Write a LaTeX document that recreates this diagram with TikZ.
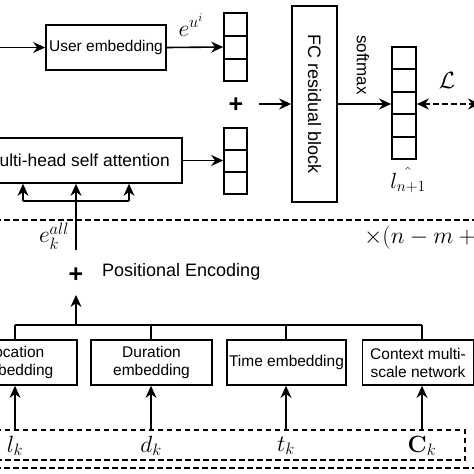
\documentclass[tikz,border=0pt]{standalone}
\usepackage{fix-cm}
\usepackage{amsmath}
\usepackage[no-math]{fontspec}
\setmainfont{Liberation Sans}
\usetikzlibrary{arrows.meta}
\begin{document}
\begin{tikzpicture}[x=1pt,y=-1pt,
  box/.style={draw, line width=1.7pt, minimum height=45pt, align=center,
    font=\fontsize{15.5}{18}\selectfont, inner sep=0pt},
  arr/.style={-{Stealth[length=12pt,width=11pt]}, line width=1.6pt},
  ln/.style={line width=1.6pt},
  dsh/.style={line width=1.6pt, dash pattern=on 5.5pt off 3.5pt},
  mlab/.style={font=\fontsize{23.5}{24}\selectfont, inner sep=0pt},
  cell/.style={draw, line width=1.7pt, inner sep=0pt},
  plus/.style={font=\fontsize{25}{25}\selectfont\bfseries, inner sep=0pt}
]
\path[use as bounding box] (0,0) rectangle (474,474);
\clip (0,0) rectangle (474,474);

% ---- top part ----
\node[box, minimum width=120pt] (user) at (106,47.5) {User embedding};
\coordinate (inU) at (-12,47.5);
\draw[arr] (inU) -- (user.west);
\node[mlab] (eu) at (191,25) {$e^{u^i}$};

\node[cell, minimum width=23pt, minimum height=68pt] (v1) at (235.5,47) {};
\draw[ln] (224,36) -- (247,36) (224,59) -- (247,59);
\draw[arr] (user.east) -- (v1.west);

\node[plus] (p1) at (236,105) {+};

\node[box, minimum width=209pt, font=\fontsize{17.4}{20}\selectfont] (mh) at (77.5,160.5) {Multi-head self attention};
\node[cell, minimum width=23pt, minimum height=66pt] (v2) at (235.5,161) {};
\draw[ln] (224,150) -- (247,150) (224,172) -- (247,172);
\draw[arr] (mh.east) -- (mh.east -| v2.west);

\node[box, minimum width=45pt, minimum height=196pt] (fc) at (314.5,104) {};
\node[rotate=-90, font=\fontsize{18}{20}\selectfont, inner sep=0pt] (fct) at (fc.center) {FC residual block};
\coordinate (p1r) at (259,104);
\draw[arr] (p1r) -- (fc.west);

\node[cell, minimum width=24pt, minimum height=112pt] (vo) at (404,103) {};
\draw[ln] (392,69) -- (416,69) (392,92) -- (416,92) (392,114) -- (416,114) (392,137) -- (416,137);
\draw[arr] (fc.east) -- (fc.east -| vo.west);
\node[rotate=-90, font=\fontsize{17}{19}\selectfont, inner sep=0pt] (sm) at (363,65) {softmax};

\coordinate (rt) at (480,104);
\draw[dsh, {Stealth[length=12pt,width=11pt]}-{Stealth[length=12pt,width=11pt]}] (vo.east |- rt) -- (rt);
\node[mlab] (L) at (447,80) {$\mathcal{L}$};
\node[mlab, font=\fontsize{22}{22}\selectfont] (lhat) at (408,180) {$\hat{l_{n+1}}$};

% ---- attention inputs ----
\coordinate (b1) at (23,201);
\coordinate (b3) at (129,201);
\draw[ln] (b1) -- (b3);
\draw[arr] (b1) -- (b1 |- mh.south);
\draw[arr] (b3) -- (b3 |- mh.south);
\coordinate (c0) at (76,250);
\draw[arr] (c0) -- (c0 |- mh.south);

\draw[dsh] (-5,220) -- (480,220);
\node[mlab, anchor=west] (rep) at (364,238) {$\times(n-m+1)$};
\node[mlab] (eall) at (54,236) {$e_k^{all}$};

\node[plus] (p2) at (76,275) {+};
\node[anchor=west, font=\fontsize{18}{20}\selectfont, inner sep=0pt] (pe) at (102,272) {Positional Encoding};

% ---- embeddings ----
\node[box, minimum width=124pt] (loc) at (15,362.5) {Location\\embedding};
\node[box, minimum width=121pt] (dur) at (151.5,362.5) {Duration\\embedding};
\node[box, minimum width=119pt] (tim) at (286.5,362.5) {Time embedding};
\node[box, minimum width=111pt] (ctx) at (418,362.5) {Context multi-\\scale network};

\coordinate (d1) at (15,325);
\coordinate (d2) at (151,325);
\coordinate (d3) at (286,325);
\coordinate (d4) at (422,325);
\coordinate (up) at (76,325);
\draw[ln] (d1) -- (d4);
\draw[ln] (d1) -- (d1 |- loc.north);
\draw[ln] (d2) -- (d2 |- dur.north);
\draw[ln] (d3) -- (d3 |- tim.north);
\draw[ln] (d4) -- (d4 |- ctx.north);
\coordinate (p2b) at (76,295);
\draw[arr] (up) -- (p2b);

% ---- inputs ----
\coordinate (i1) at (15,430);
\coordinate (i2) at (151,430);
\coordinate (i3) at (286,430);
\coordinate (i4) at (422,430);
\draw[arr] (i1) -- (i1 |- loc.south);
\draw[arr] (i2) -- (i2 |- dur.south);
\draw[arr] (i3) -- (i3 |- tim.south);
\draw[arr] (i4) -- (i4 |- ctx.south);
\node[mlab] (lk) at (15,446) {$l_k$};
\node[mlab] (dk) at (151,446) {$d_k$};
\node[mlab] (tk) at (286,446) {$t_k$};
\node[mlab] (ck) at (422,446) {$\mathbf{C}_k$};
\draw[dsh] (-10,430) rectangle (465,460);
\draw[dsh] (-5,468) -- (480,468);
\end{tikzpicture}
\end{document}
